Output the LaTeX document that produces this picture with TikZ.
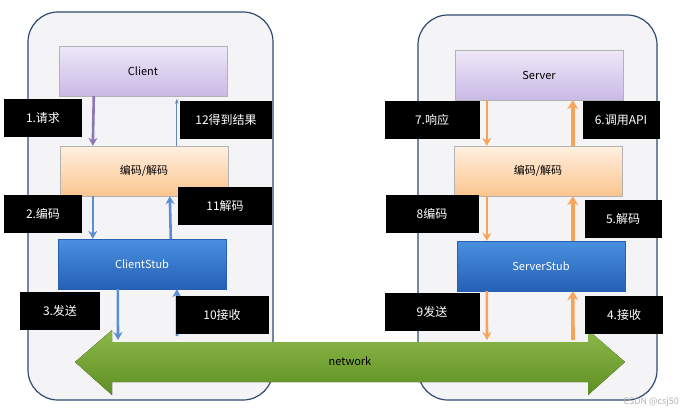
\documentclass[tikz,border=0pt]{standalone}
\usepackage{fontspec}
\setmainfont{Noto Sans CJK SC}
\usetikzlibrary{calc,arrows.meta,shapes.arrows}
\definecolor{cont}{HTML}{F4F4F7}
\definecolor{contb}{HTML}{2F4A70}
\definecolor{arrorange}{HTML}{F7A45A}
\definecolor{arrblue}{HTML}{5B8FD0}
\definecolor{arrpurple}{HTML}{8A78B8}
\definecolor{cltop}{HTML}{EEE8F8}
\definecolor{clbot}{HTML}{C9B9E6}
\definecolor{cotop}{HTML}{FFF0E0}
\definecolor{cobot}{HTML}{FBC58E}
\definecolor{sttop}{HTML}{4A90E0}
\definecolor{stbot}{HTML}{2560B5}
\definecolor{grtop}{HTML}{8CB84A}
\definecolor{grbot}{HTML}{5E8E22}
\tikzset{
  box/.style={draw=gray!60,minimum width=168pt,minimum height=50pt,font=\fontsize{11}{13}\selectfont},
  client/.style={box,top color=cltop,bottom color=clbot},
  code/.style={box,top color=cotop,bottom color=cobot},
  stub/.style={box,draw=stbot,top color=sttop,bottom color=stbot,text=white},
  lab/.style={fill=black,text=white,inner sep=0pt,minimum width=#1,minimum height=38pt,font=\fontsize{12}{14}\selectfont},
  lab/.default=78pt,
  ar/.style={-{Stealth[length=8pt,width=9pt]},line width=2.6pt},
  arb/.style={-{Stealth[length=9pt,width=11pt]},line width=3.6pt},
  cont/.style={draw=contb,line width=1.2pt,fill=cont,rounded corners=30pt}
}
\begin{document}
\begin{tikzpicture}[x=1pt,y=-1pt]
\useasboundingbox[fill=white] (0,0) rectangle (683,410);
\draw[cont] (28,12) rectangle (273,400);
\draw[cont] (418,15) rectangle (657,400);
% left
\node[client] (client) at (143,71) {Client};
\node[code] (lcode) at (144,171) {编码/解码};
\node[stub] (cstub) at (142,264) {ClientStub};
% right
\node[client] (server) at (539,75) {Server};
\node[code] (rcode) at (538,171) {编码/解码};
\node[stub] (sstub) at (541,266) {ServerStub};
% network arrow
\fill[top color=grtop,bottom color=grbot] (75,362) -- (112,330) -- (112,342) -- (588,342) -- (588,330) -- (625,362) -- (588,395) -- (588,382) -- (112,382) -- (112,395) -- cycle;
\node[font=\fontsize{11}{13}\selectfont] (net) at (350,361) {network};
\coordinate (ln) at (118,340);
\coordinate (lnu) at (177,336);
\coordinate (rn) at (487,340);
\coordinate (rnu) at (573,340);
% left arrows
\draw[ar,arrpurple] ($(client.south west)+(35,0)$) -- ($(lcode.north west)+(33,0)$);
\draw[-{Stealth[length=5pt]},line width=1pt,arrblue!70!gray] ($(lcode.north west)+(117,0)$) -- ($(lcode.north west)+(117,-47)$);
\draw[ar,arrblue] ($(lcode.south west)+(33,0)$) -- ($(cstub.north west)+(35,0)$);
\draw[ar,arrblue] ($(cstub.north west)+(113,0)$) -- ($(lcode.south west)+(110,0)$);
\draw[ar,arrblue] ($(cstub.south west)+(60,0)$) -- (ln);
\draw[ar,arrblue] (lnu) -- ($(cstub.south west)+(119,0)$);
% right arrows
\draw[ar,arrorange] ($(server.south west)+(32,0)$) -- ($(rcode.north west)+(33,0)$);
\draw[arb,arrorange] ($(rcode.north west)+(119,0)$) -- ($(server.south west)+(118,0)$);
\draw[ar,arrorange] ($(rcode.south west)+(33,0)$) -- ($(sstub.north west)+(30,0)$);
\draw[arb,arrorange] ($(sstub.north west)+(116,0)$) -- ($(rcode.south west)+(119,0)$);
\draw[ar,arrorange] ($(sstub.south west)+(30,0)$) -- (rn);
\draw[arb,arrorange] (rnu) -- ($(sstub.south west)+(116,0)$);
% labels
\node[lab] (l1) at (43,118) {1.请求};
\node[lab=92pt] (l12) at (226,120) {12得到结果};
\node[lab] (l2) at (43,214) {2.编码};
\node[lab=94pt] (l11) at (225,206) {11解码};
\node[lab=80pt] (l3) at (60,311) {3.发送};
\node[lab=93pt] (l10) at (222,315) {10接收};
\node[lab=95pt] (l7) at (432,120) {7.响应};
\node[lab=77pt] (l6) at (621,120) {6.调用API};
\node[lab=93pt] (l8) at (432,214) {8编码};
\node[lab=77pt] (l5) at (623,219) {5.解码};
\node[lab=95pt] (l9) at (432,312) {9发送};
\node[lab=78pt] (l4) at (624,315) {4.接收};
\node[text=gray!60,font=\fontsize{9}{10}\selectfont,anchor=south east,inner sep=1pt] (wm) at (680,408) {CSDN @csj50};
\end{tikzpicture}
\end{document}
